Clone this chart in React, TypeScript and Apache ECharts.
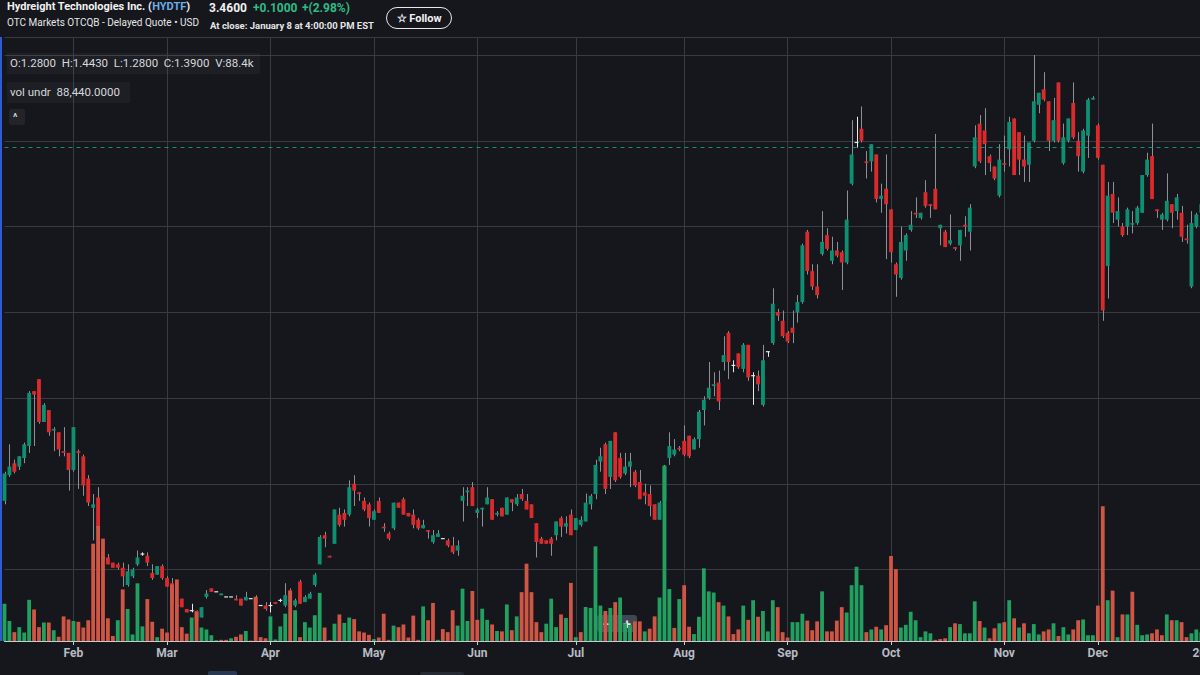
import React, { useEffect, useRef } from "react";
import * as echarts from "echarts";

// ---------- categories (US trading days) ----------
const startDate = "2025-01-13";
const endDate = "2026-01-08";
const holidays = [
  "2025-01-20", "2025-02-17", "2025-04-18", "2025-05-26", "2025-06-19",
  "2025-07-04", "2025-09-01", "2025-11-27", "2025-12-25", "2026-01-01",
];
const monthNames = ["Jan", "Feb", "Mar", "Apr", "May", "Jun", "Jul", "Aug", "Sep", "Oct", "Nov", "Dec"];

// ---------- price data: [open, high, low, close] ----------
const ohlc: number[][] = [
  [1.40,1.57,1.38,1.56],[1.55,1.73,1.54,1.60],[1.62,1.64,1.56,1.57],[1.60,1.66,1.58,1.66],[1.65,1.74,1.62,1.73],
  [1.72,2.04,1.68,2.03],[2.04,2.04,1.72,2.02],[2.11,2.11,1.85,1.86],[1.86,1.97,1.86,1.96],[1.93,1.93,1.78,1.80],
  [1.81,1.83,1.69,1.82],[1.80,1.80,1.66,1.70],[1.69,1.83,1.66,1.68],[1.68,1.68,1.46,1.58],[1.58,1.83,1.57,1.83],
  [1.69,1.70,1.47,1.68],[1.66,1.67,1.43,1.49],[1.53,1.55,1.37,1.39],[1.36,1.44,1.17,1.38],[1.42,1.48,1.24,1.24],
  [1.07,1.13,0.99,1.07],[1.07,1.09,1.03,1.03],[1.04,1.04,1.01,1.01],[1.03,1.04,1.00,1.01],[1.01,1.04,0.90,0.96],
  [0.91,1.03,0.90,0.99],[0.96,1.01,0.95,1.00],[1.03,1.11,1.02,1.07],[1.09,1.10,1.08,1.09],[1.08,1.10,1.02,1.04],
  [0.98,1.03,0.94,0.95],[0.97,1.02,0.97,1.02],[1.02,1.03,0.94,0.95],[0.95,0.96,0.90,0.90],[0.92,0.95,0.79,0.80],
  [0.79,0.82,0.72,0.79],[0.83,0.83,0.78,0.78],[0.77,0.77,0.75,0.75],[0.76,0.80,0.75,0.76],[0.76,0.76,0.70,0.70],
  [0.72,0.78,0.72,0.78],[0.84,0.88,0.83,0.86],[0.89,0.89,0.87,0.87],[0.87,0.87,0.87,0.87],[0.85,0.86,0.85,0.86],
  [0.84,0.84,0.84,0.84],[0.84,0.84,0.84,0.84],[0.83,0.85,0.82,0.82],[0.83,0.83,0.79,0.79],[0.82,0.87,0.82,0.84],
  [0.83,0.83,0.83,0.83],[0.84,0.85,0.80,0.80],[0.79,0.79,0.79,0.79],[0.79,0.81,0.76,0.77],[0.79,0.81,0.75,0.79],
  [0.81,0.81,0.80,0.80],[0.82,0.83,0.81,0.82],[0.79,0.92,0.78,0.85],[0.88,0.89,0.80,0.81],[0.79,0.83,0.78,0.82],
  [0.93,0.94,0.80,0.80],[0.81,0.85,0.81,0.84],[0.83,0.87,0.83,0.86],[0.91,0.98,0.90,0.97],[1.03,1.20,1.03,1.19],
  [1.20,1.22,1.13,1.18],[1.08,1.08,1.07,1.07],[1.15,1.35,1.15,1.35],[1.32,1.36,1.25,1.26],[1.33,1.35,1.25,1.29],
  [1.32,1.52,1.31,1.48],[1.50,1.55,1.37,1.46],[1.45,1.45,1.40,1.44],[1.40,1.42,1.34,1.35],[1.38,1.39,1.25,1.30],
  [1.29,1.35,1.29,1.34],[1.40,1.42,1.33,1.33],[1.25,1.27,1.22,1.24],[1.21,1.22,1.17,1.18],[1.24,1.39,1.23,1.39],
  [1.39,1.39,1.36,1.36],[1.41,1.42,1.32,1.32],[1.33,1.33,1.31,1.31],[1.32,1.35,1.24,1.26],[1.29,1.30,1.23,1.24],
  [1.24,1.29,1.24,1.26],[1.23,1.23,1.18,1.22],[1.16,1.23,1.15,1.20],[1.19,1.23,1.19,1.21],[1.18,1.18,1.18,1.18],
  [1.17,1.18,1.13,1.14],[1.14,1.19,1.09,1.10],[1.11,1.17,1.08,1.14],[1.40,1.48,1.28,1.43],[1.45,1.48,1.37,1.46],
  [1.48,1.51,1.37,1.37],[1.33,1.36,1.30,1.35],[1.35,1.36,1.25,1.36],[1.38,1.48,1.38,1.42],[1.41,1.41,1.29,1.29],
  [1.32,1.34,1.31,1.33],[1.36,1.36,1.31,1.31],[1.32,1.42,1.32,1.42],[1.41,1.41,1.34,1.39],[1.38,1.44,1.37,1.42],
  [1.44,1.47,1.40,1.41],[1.40,1.44,1.35,1.35],[1.38,1.38,1.30,1.30],[1.27,1.27,1.07,1.16],[1.18,1.19,1.15,1.15],
  [1.17,1.17,1.15,1.15],[1.18,1.19,1.08,1.15],[1.20,1.28,1.17,1.28],[1.30,1.31,1.19,1.25],[1.25,1.31,1.21,1.27],
  [1.32,1.35,1.20,1.20],[1.23,1.30,1.23,1.30],[1.26,1.31,1.25,1.29],[1.28,1.443,1.28,1.39],[1.38,1.44,1.35,1.43],
  [1.44,1.64,1.41,1.61],[1.63,1.71,1.57,1.66],[1.73,1.74,1.44,1.47],[1.54,1.75,1.47,1.75],[1.80,1.80,1.51,1.52],
  [1.65,1.68,1.53,1.54],[1.56,1.68,1.55,1.60],[1.60,1.68,1.48,1.63],[1.57,1.58,1.48,1.49],[1.51,1.58,1.41,1.41],
  [1.45,1.50,1.38,1.43],[1.44,1.49,1.31,1.37],[1.38,1.38,1.29,1.29],[1.29,1.40,1.29,1.39],[1.40,1.61,1.39,1.60],
  [1.65,1.80,1.61,1.72],[1.67,1.76,1.66,1.70],[1.71,1.72,1.69,1.70],[1.75,1.84,1.66,1.67],[1.78,1.78,1.65,1.66],
  [1.70,1.77,1.70,1.76],[1.76,1.93,1.71,1.92],[1.93,2.01,1.84,1.99],[2.00,2.21,1.99,2.06],[2.07,2.15,2.01,2.08],
  [2.09,2.16,1.93,1.98],[2.21,2.36,2.16,2.25],[2.38,2.39,2.11,2.21],[2.19,2.22,2.15,2.19],[2.26,2.26,2.17,2.18],
  [2.17,2.32,2.15,2.31],[2.31,2.31,2.10,2.12],[2.13,2.15,1.96,2.13],[2.13,2.16,2.04,2.08],[1.96,2.31,1.95,2.22],
  [2.27,2.27,2.24,2.27],[2.32,2.64,2.31,2.55],[2.50,2.52,2.45,2.48],[2.45,2.51,2.35,2.36],[2.38,2.39,2.32,2.33],
  [2.41,2.51,2.32,2.38],[2.50,2.60,2.44,2.56],[2.56,2.90,2.55,2.89],[2.97,2.98,2.72,2.74],[2.74,2.78,2.63,2.65],
  [2.65,2.78,2.58,2.60],[2.84,3.09,2.83,2.91],[2.95,2.99,2.86,2.87],[2.80,2.94,2.78,2.86],[2.86,2.91,2.82,2.83],
  [2.85,2.86,2.63,2.79],[2.79,3.21,2.78,3.04],[3.25,3.62,3.24,3.42],[3.49,3.64,3.46,3.49],[3.57,3.70,3.49,3.50],
  [3.38,3.44,3.28,3.37],[3.38,3.48,3.32,3.48],[3.42,3.42,3.14,3.16],[3.16,3.25,3.08,3.18],[3.22,3.42,2.81,3.13],
  [3.10,3.10,2.79,2.85],[2.78,2.79,2.59,2.72],[2.70,3.00,2.69,2.91],[2.86,2.96,2.80,2.95],[2.98,3.09,2.97,3.01],
  [3.08,3.17,3.05,3.07],[3.05,3.08,3.04,3.08],[3.20,3.27,3.11,3.12],[3.13,3.13,3.05,3.12],[3.22,3.54,3.10,3.10],
  [2.99,3.01,2.89,3.01],[2.97,2.98,2.88,2.88],[2.90,3.07,2.89,2.92],[2.88,2.88,2.86,2.87],[2.89,2.98,2.80,2.98],
  [3.01,3.06,2.94,3.00],[2.97,3.13,2.86,3.11],[3.35,3.59,3.34,3.52],[3.60,3.65,3.37,3.38],[3.56,3.69,3.30,3.48],
  [3.41,3.42,3.32,3.37],[3.35,3.35,3.27,3.28],[3.18,3.48,3.17,3.39],[3.37,3.53,3.32,3.36],[3.45,3.64,3.35,3.61],
  [3.63,3.63,3.30,3.30],[3.55,3.55,3.30,3.39],[3.39,3.53,3.26,3.35],[3.36,3.49,3.26,3.49],[3.50,4.00,3.49,3.73],
  [3.71,3.78,3.66,3.78],[3.80,3.90,3.73,3.74],[3.73,3.73,3.44,3.50],[3.50,3.75,3.49,3.62],[3.84,3.84,3.49,3.50],
  [3.37,3.60,3.36,3.52],[3.50,3.63,3.49,3.63],[3.72,3.84,3.51,3.52],[3.50,3.55,3.32,3.41],[3.32,3.57,3.31,3.56],
  [3.53,3.75,3.40,3.74],[3.74,3.76,3.74,3.75],[3.59,3.60,3.39,3.40],[3.36,3.36,2.45,2.51],[2.77,3.26,2.58,3.18],
  [3.19,3.26,3.02,3.08],[3.04,3.17,3.00,3.09],[3.00,3.02,2.94,2.95],[3.00,3.11,2.95,3.10],[3.01,3.09,2.96,3.02],
  [3.02,3.12,3.01,3.11],[3.08,3.30,3.08,3.30],[3.30,3.43,3.29,3.39],[3.41,3.60,3.16,3.16],[3.10,3.10,3.05,3.09],
  [3.04,3.08,2.98,3.07],[3.04,3.31,3.03,3.15],[3.13,3.13,2.99,3.08],[3.09,3.19,3.04,3.17],[3.08,3.12,2.91,2.94],
  [2.93,3.01,2.90,2.92],[2.65,3.09,2.64,3.02],[3.00,3.08,2.99,3.07],[3.08,3.16,3.07,3.13],
];

// ---------- volume (thousands of shares) ----------
const volumeK: number[] = [
  97,52,23,36,22,107,82,36,48,48,
  28,11,64,56,52,50,35,54,253,299,
  266,59,13,54,134,83,17,150,38,109,
  50,10,32,22,147,160,36,19,61,76,
  35,30,15,2,3,3,7,11,17,26,
  1,115,10,7,64,4,38,71,130,80,
  10,49,35,67,125,35,2,45,69,47,
  61,57,25,22,16,5,9,71,3,40,
  36,43,9,66,3,90,54,99,3,31,
  23,80,40,136,52,130,55,84,55,43,
  26,25,95,28,64,127,201,127,49,23,
  45,110,36,69,60,151,10,23,88.44,86,
  246,92,78,86,101,113,46,41,51,51,
  25,32,64,113,456,135,34,109,145,37,
  18,63,189,129,126,101,92,64,18,30,
  92,55,106,63,78,25,106,88,23,9,
  49,49,71,53,28,51,129,25,25,53,
  88,74,145,193,145,23,30,37,30,41,
  221,187,35,42,76,54,10,25,20,3,
  5,7,36,46,44,20,20,103,52,35,
  7,33,46,49,106,59,35,46,20,44,
  17,25,30,46,13,36,17,30,54,56,
  15,15,92,350,106,131,10,69,69,128,
  42,15,17,20,30,15,69,54,54,49,
  10,20,30,23,
];

// ---------- quote header ----------
const companyName = "Hydreight Technologies Inc.";
const ticker = "HYDTF";
const exchangeLine = "OTC Markets OTCQB - Delayed Quote • USD";
const lastPrice = 3.46;
const priceChange = 0.1;
const priceChangePct = 2.98;
const closeLine = "At close: January 8 at 4:00:00 PM EST";
const hoverIndex = 118;

// ---------- styling ----------
const BG = "#15171c";
const GRID = "#383b41";
const UP = "#0f8f72";
const DOWN = "#d92a2c";
const VOL_UP = "#22a060";
const VOL_DOWN = "#cf5545";
const WICK = "#8d9096";
const DOJI = "#e8e8e8";
const FONT = "Roboto, 'Liberation Sans', Arial, sans-serif";

function buildDates(): string[] {
  const out: string[] = [];
  const [y, m, d] = startDate.split("-").map(Number);
  const cur = new Date(Date.UTC(y, m - 1, d));
  for (;;) {
    const iso = cur.toISOString().slice(0, 10);
    if (iso > endDate) break;
    const wd = cur.getUTCDay();
    if (wd !== 0 && wd !== 6 && holidays.indexOf(iso) < 0) out.push(iso);
    cur.setUTCDate(cur.getUTCDate() + 1);
  }
  return out;
}

const dates = buildDates();
const isMonthStart = (i: number) => i > 0 && dates[i].slice(5, 7) !== dates[i - 1].slice(5, 7);

export default function App() {
  const ref = useRef<HTMLDivElement>(null);

  useEffect(() => {
    if (!ref.current) return;
    const chart = echarts.init(ref.current, undefined, { renderer: "svg" });

    const candleData = ohlc.map((d, i) => [i, d[0], d[1], d[2], d[3]]);
    const volData = volumeK.map((v, i) => {
      const up = i === 0 ? ohlc[0][3] >= ohlc[0][0] : ohlc[i][3] >= ohlc[i - 1][3];
      return { value: v, itemStyle: { color: up ? VOL_UP : VOL_DOWN } };
    });

    const h = ohlc[hoverIndex];
    const hv = volumeK[hoverIndex];
    const sp = "\u00a0\u00a0";
    const ohlcText = `O:${h[0].toFixed(4)}${sp}H:${h[1].toFixed(4)}${sp}L:${h[2].toFixed(4)}${sp}C:${h[3].toFixed(4)}${sp}V:${hv.toFixed(1)}k`;
    const volText = `vol undr${sp}${(hv * 1000).toLocaleString("en-US", { minimumFractionDigits: 4, maximumFractionDigits: 4 })}`;

    const gridLeft = 4.5;
    const gridRight = 34.1;

    const option: any = {
      animation: false,
      backgroundColor: BG,
      grid: [
        { left: gridLeft, right: gridRight, top: 37, bottom: 19.75 },
        { left: gridLeft, right: gridRight, top: 37, bottom: 34 },
      ],
      xAxis: [
        {
          type: "category", gridIndex: 0, data: dates, boundaryGap: false,
          axisLine: { show: false }, axisTick: { show: false }, axisLabel: { show: false }, splitLine: { show: false },
        },
        {
          type: "category", gridIndex: 1, data: dates, boundaryGap: false,
          axisLine: { show: true, lineStyle: { color: "#c8cbd0", width: 1 } },
          axisTick: { show: true, interval: (i: number) => isMonthStart(i), length: 4, lineStyle: { color: "#c8cbd0" } },
          axisLabel: {
            interval: (i: number) => isMonthStart(i),
            formatter: (v: string) => {
              const mo = Number(v.slice(5, 7)) - 1;
              return mo === 0 ? v.slice(0, 4) : monthNames[mo];
            },
            color: "#b7bbc3", fontSize: 12, fontWeight: "bold", fontFamily: "'Liberation Sans Narrow', " + FONT, margin: 6,
          },
          splitLine: { show: true, interval: (i: number) => isMonthStart(i), lineStyle: { color: GRID, width: 1 } },
        },
      ],
      yAxis: [
        {
          type: "value", gridIndex: 0, min: 0.5, max: 4.105, interval: 0.5, position: "right",
          axisLine: { show: false }, axisTick: { show: false }, axisLabel: { show: false },
          splitLine: { show: true, showMinLine: false, lineStyle: { color: GRID, width: 1 } },
        },
        {
          type: "value", gridIndex: 1, min: 0, max: 1570, show: false,
          splitLine: { show: false },
        },
      ],
      series: [
        {
          type: "bar", name: "Volume", xAxisIndex: 1, yAxisIndex: 1, data: volData,
          barWidth: 3.8, silent: true,
        },
        {
          type: "custom", name: "HYDTF", xAxisIndex: 0, yAxisIndex: 0, data: candleData,
          encode: { x: 0, y: [1, 2, 3, 4] }, silent: true,
          renderItem: (_p: any, api: any) => {
            const i = api.value(0);
            const o = api.value(1), hi = api.value(2), lo = api.value(3), c = api.value(4);
            const pO = api.coord([i, o]);
            const pC = api.coord([i, c]);
            const pH = api.coord([i, hi]);
            const pL = api.coord([i, lo]);
            const w = api.size([1, 0])[0] * 0.78;
            const doji = Math.abs(c - o) < 1e-6;
            const color = doji ? DOJI : c > o ? UP : DOWN;
            const top = Math.min(pO[1], pC[1]);
            const bh = Math.max(Math.abs(pO[1] - pC[1]), 1.2);
            const x = Math.round(pO[0]) + 0.5;
            return {
              type: "group",
              children: [
                { type: "line", shape: { x1: x, y1: pH[1], x2: x, y2: pL[1] }, style: { stroke: doji ? DOJI : WICK, lineWidth: 1 } },
                { type: "rect", shape: { x: pO[0] - w / 2, y: doji ? top - 0.6 : top, width: w, height: bh }, style: { fill: color } },
              ],
            };
          },
          markLine: {
            silent: true, symbol: ["none", "none"], label: { show: false },
            lineStyle: { color: "#14a386", type: [4, 4], width: 1, opacity: 0.85 },
            data: [{ yAxis: lastPrice }],
          },
        },
      ],
      graphic: [
        // left accent line
        { type: "rect", left: 0, top: 37, shape: { width: 2, height: 604 }, style: { fill: "#2f5bd3" }, z: 100 },
        // header
        {
          type: "text", left: 7, top: 1, z: 100,
          style: {
            text: `{t|${companyName} (}{s|${ticker}}{t|)}`,
            rich: {
              t: { fill: "#f0f0f0", fontSize: 11, fontWeight: "bold", fontFamily: FONT },
              s: { fill: "#6aaee8", fontSize: 11, fontWeight: "bold", fontFamily: FONT },
            },
          },
        },
        { type: "text", left: 7, top: 17, z: 100, style: { text: exchangeLine, fill: "#e6e6e6", fontSize: 10, fontFamily: FONT } },
        { type: "text", left: 209, top: 2, z: 100, style: { text: lastPrice.toFixed(4), fill: "#f0f0f0", fontSize: 12, fontWeight: "bold", fontFamily: FONT } },
        { type: "text", left: 253, top: 2, z: 100, style: { text: `+${priceChange.toFixed(4)}`, fill: "#2dbb86", fontSize: 12, fontWeight: "bold", fontFamily: FONT } },
        { type: "text", left: 302, top: 2, z: 100, style: { text: `+(${priceChangePct.toFixed(2)}%)`, fill: "#2dbb86", fontSize: 12, fontWeight: "bold", fontFamily: FONT } },
        { type: "text", left: 210, top: 20, z: 100, style: { text: closeLine, fill: "#e6e6e6", fontSize: 9.5, fontWeight: "bold", fontFamily: FONT } },
        {
          type: "group", left: 386, top: 7, z: 100,
          children: [
            { type: "rect", shape: { x: 0, y: 0, width: 65, height: 21, r: 10.5 }, style: { fill: "transparent", stroke: "#e8e8e8", lineWidth: 1 } },
            { type: "text", x: 32.5, y: 10.5, style: { text: "☆ Follow", fill: "#f2f2f2", fontSize: 11, fontWeight: "bold", fontFamily: FONT, align: "center", verticalAlign: "middle" } },
          ],
        },
        // OHLC readout
        { type: "rect", left: 7, top: 53, shape: { width: 253, height: 21 }, style: { fill: "rgba(255,255,255,0.035)" }, z: 100 },
        { type: "text", left: 10, top: 57, z: 101, style: { text: ohlcText, fill: "#d6d8dc", fontSize: 11.5, fontFamily: FONT } },
        { type: "rect", left: 7, top: 82, shape: { width: 123, height: 21 }, style: { fill: "rgba(255,255,255,0.035)" }, z: 100 },
        { type: "text", left: 10, top: 86, z: 101, style: { text: volText, fill: "#d6d8dc", fontSize: 11.5, fontFamily: FONT } },
        { type: "rect", left: 9, top: 109, shape: { width: 16, height: 16, r: 2 }, style: { fill: "rgba(255,255,255,0.06)" }, z: 100 },
        { type: "text", left: 13, top: 112, z: 101, style: { text: "^", fill: "#d6d8dc", fontSize: 10, fontWeight: "bold", fontFamily: FONT } },
        // zoom controls
        {
          type: "group", left: 597, top: 615, z: 100,
          children: [
            { type: "rect", shape: { x: 0, y: 0, width: 40, height: 17, r: 3 }, style: { fill: "rgba(78,90,100,0.75)" } },
            { type: "text", x: 9, y: 8.5, style: { text: "−", fill: "#e2e4e7", fontSize: 14, fontWeight: "bold", fontFamily: FONT, align: "center", verticalAlign: "middle" } },
            { type: "text", x: 30, y: 8.5, style: { text: "+", fill: "#e2e4e7", fontSize: 14, fontWeight: "bold", fontFamily: FONT, align: "center", verticalAlign: "middle" } },
          ],
        },
        // bottom tabs
        { type: "rect", left: 208, top: 671, shape: { width: 29, height: 6, r: 2 }, style: { fill: "#2a3750" }, z: 100 },
        { type: "rect", left: 420, top: 672, shape: { width: 44, height: 5, r: 2 }, style: { fill: "#262b33" }, z: 100 },
      ],
    };

    chart.setOption(option);
    return () => chart.dispose();
  }, []);

  return (
    <div style={{ position: "fixed", left: 0, top: 0, width: 1200, height: 675, overflow: "hidden", background: BG }}>
      <div ref={ref} style={{ width: 1260, height: 675 }} />
    </div>
  );
}
